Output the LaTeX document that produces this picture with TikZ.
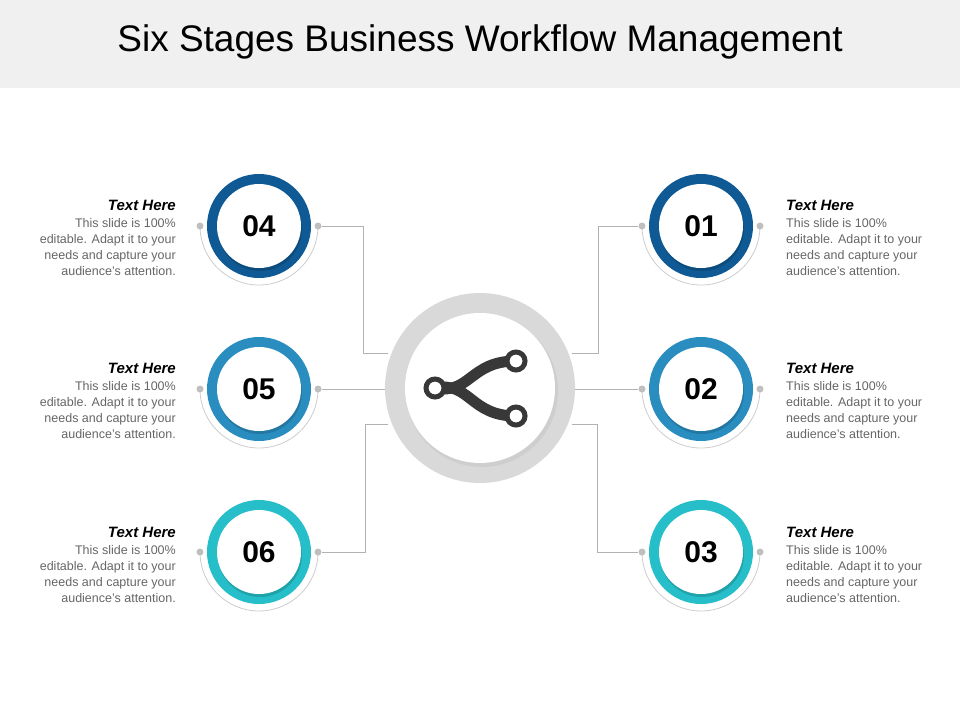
\documentclass[tikz,border=0pt]{standalone}
\usepackage{fontspec}
\setmainfont{Liberation Sans}
\begin{document}
\begin{tikzpicture}[x=1pt,y=-1pt,
  conn/.style={draw=black!30,line width=0.8pt},
  dot/.style={circle,fill=black!25,inner sep=0pt,minimum size=7pt},
  num/.style={font=\bfseries\fontsize{30}{34}\selectfont},
  head/.style={font=\bfseries\itshape\fontsize{15}{18}\selectfont},
  body/.style={font=\fontsize{12.5}{16}\selectfont,text=black!60}]
\useasboundingbox (0,0) rectangle (960,720);
\fill[black!6] (0,0) rectangle (960,88);
\node[font=\fontsize{37}{40}\selectfont] (title) at (480,42) {Six Stages Business Workflow Management};
\definecolor{cA}{HTML}{0F5A94}
\definecolor{cB}{HTML}{2A8DC0}
\definecolor{cC}{HTML}{26BFC9}
% center
\fill[black!15] (480,388) circle (95);
\fill[black!25,opacity=0.4] (482,391) circle (76);
\fill[white] (480,388) circle (75);
\node[minimum size=190pt,circle] (C) at (480,388) {};
% icon
\begin{scope}[draw=black!78,line width=11pt]
\draw (435,388) .. controls (470,395) and (470,361) .. (516,361);
\draw (435,388) .. controls (470,381) and (470,416) .. (516,416);
\end{scope}
\foreach \p in {(435,388),(516,361),(516,416)}{
  \filldraw[fill=white,draw=black!78,line width=5pt] \p circle (9);}
% stages
\foreach \n/\x/\y/\c in {04/259/226/cA,05/259/389/cB,06/259/552/cC,01/701/226/cA,02/701/389/cB,03/701/552/cC}{
  \draw[black!20,line width=0.8pt] (\x-59,\y) arc[start angle=180,end angle=0,radius=59];
  \fill[\c] (\x,\y) circle (52);
  \fill[black,opacity=0.15] (\x+1,\y+3) circle (42);
  \fill[white] (\x,\y) circle (42);
  \node[num] (s\n) at (\x,\y) {\n};
  \node[dot] (l\n) at (\x-59,\y) {};
  \node[dot] (r\n) at (\x+59,\y) {};
}
\coordinate (c4) at (388,353);
\coordinate (c5) at (385,389);
\coordinate (c6) at (388,424);
\coordinate (c1) at (572,353);
\coordinate (c2) at (575,389);
\coordinate (c3) at (572,424);
\draw[conn] (r04) -- (363,226) |- (c4);
\draw[conn] (r05) -- (c5);
\draw[conn] (r06) -- (365,552) |- (c6);
\draw[conn] (l01) -- (598,226) |- (c1);
\draw[conn] (l02) -- (c2);
\draw[conn] (l03) -- (597,552) |- (c3);
% texts
\foreach \y/\k in {205/a,368/b,532/c}{
  \node[head,anchor=east,inner sep=0pt] (hl\k) at (176,\y) {Text Here};
  \node[body,anchor=north east,align=right,inner sep=0pt] (bl\k) at (176,\y+13) {This slide is 100\%\\editable. Adapt it to your\\needs and capture your\\audience's attention.};
  \node[head,anchor=west,inner sep=0pt] (hr\k) at (786,\y) {Text Here};
  \node[body,anchor=north west,align=left,inner sep=0pt] (br\k) at (786,\y+13) {This slide is 100\%\\editable. Adapt it to your\\needs and capture your\\audience's attention.};
}
\end{tikzpicture}
\end{document}
